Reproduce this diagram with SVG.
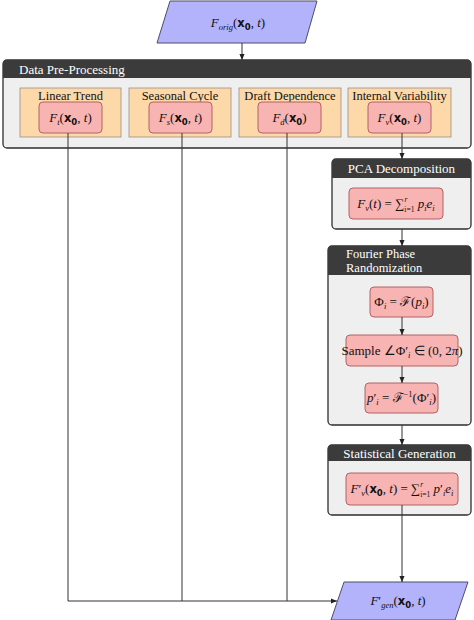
<svg xmlns="http://www.w3.org/2000/svg" width="474" height="620" viewBox="0 0 474 620" font-family="'Liberation Serif', 'Times New Roman', serif">
<defs>
<marker id="ah" viewBox="0 0 8 8" refX="7" refY="4" markerWidth="7" markerHeight="7" orient="auto" markerUnits="userSpaceOnUse">
<path d="M0,1 L7,4 L0,7 Z" fill="#222"/>
</marker>
</defs>
<style>
text{font-family:'Liberation Serif','Times New Roman',serif;fill:#111}
.hd{fill:#ffffff;font-size:13px}
.hd2{fill:#ffffff;font-size:12.5px}
.lbl{font-size:12.5px;text-anchor:middle}
.m{font-size:13px;text-anchor:middle}
.i{font-style:italic}
.b{font-weight:bold;font-family:'DejaVu Sans','Liberation Sans',sans-serif;font-size:11.5px}
.s{font-size:8.5px}
.t{font-size:7.5px}
.outer{fill:#efefef;stroke:#2e2e2e;stroke-width:1.3}
.head{fill:#3b3b3b}
.org{fill:#fdd9aa;stroke:#9a8f80;stroke-width:0.8}
.pink{fill:#f8b3b3;stroke:#b26363;stroke-width:1}
.para{fill:#b3b3fb;stroke:#4d4d6b;stroke-width:1}
.c{fill:none;stroke:#333;stroke-width:1}
</style>

<g id="orig">
<polygon class="para" points="170,1 317,1 305,43 157,43"/>
<text class="m" x="238" y="27"><tspan class="i">F</tspan><tspan class="i s" dy="3">orig</tspan><tspan dy="-3">(</tspan><tspan class="b">x</tspan><tspan class="b s" dy="3">0</tspan><tspan dy="-3">, </tspan><tspan class="i">t</tspan>)</text>
</g>

<g id="preprocessing">
<rect class="outer" x="3" y="60" width="468" height="88" rx="4"/>
<path class="head" d="M3,78 V64 a4,4 0 0 1 4,-4 H467 a4,4 0 0 1 4,4 V78 Z"/>
<text class="hd" x="19" y="73.5">Data Pre-Processing</text>
</g>

<g id="linear">
<rect class="org" x="20" y="88" width="101" height="49"/>
<text class="lbl" x="70.5" y="100">Linear Trend</text>
<rect class="pink" x="39" y="102" width="63" height="31" rx="4"/>
<text class="m" x="70.5" y="122"><tspan class="i">F</tspan><tspan class="i s" dy="3">t</tspan><tspan dy="-3">(</tspan><tspan class="b">x</tspan><tspan class="b s" dy="3">0</tspan><tspan dy="-3">, </tspan><tspan class="i">t</tspan>)</text>
</g>

<g id="seasonal">
<rect class="org" x="129" y="88" width="102" height="49"/>
<text class="lbl" x="180" y="100">Seasonal Cycle</text>
<rect class="pink" x="149" y="102" width="63" height="31" rx="4"/>
<text class="m" x="180.5" y="122"><tspan class="i">F</tspan><tspan class="i s" dy="3">s</tspan><tspan dy="-3">(</tspan><tspan class="b">x</tspan><tspan class="b s" dy="3">0</tspan><tspan dy="-3">, </tspan><tspan class="i">t</tspan>)</text>
</g>

<g id="draft">
<rect class="org" x="239" y="88" width="102" height="49"/>
<text class="lbl" x="290" y="100">Draft Dependence</text>
<rect class="pink" x="258" y="102" width="63" height="31" rx="4"/>
<text class="m" x="289.5" y="122"><tspan class="i">F</tspan><tspan class="i s" dy="3">d</tspan><tspan dy="-3">(</tspan><tspan class="b">x</tspan><tspan class="b s" dy="3">0</tspan><tspan dy="-3">)</tspan></text>
</g>

<g id="internal">
<rect class="org" x="348" y="88" width="103" height="49"/>
<text class="lbl" x="399.5" y="100">Internal Variability</text>
<rect class="pink" x="368" y="102" width="63" height="31" rx="4"/>
<text class="m" x="399.5" y="122"><tspan class="i">F</tspan><tspan class="i s" dy="3">v</tspan><tspan dy="-3">(</tspan><tspan class="b">x</tspan><tspan class="b s" dy="3">0</tspan><tspan dy="-3">, </tspan><tspan class="i">t</tspan>)</text>
</g>

<g id="pca">
<rect class="outer" x="332" y="159" width="139" height="70" rx="4"/>
<path class="head" d="M332,178 V163 a4,4 0 0 1 4,-4 H467 a4,4 0 0 1 4,4 V178 Z"/>
<text class="hd" x="401.5" y="172.5" text-anchor="middle">PCA Decomposition</text>
<rect class="pink" x="349" y="188" width="94" height="31" rx="4"/>
<text class="m" x="396" y="208"><tspan class="i">F</tspan><tspan class="i s" dy="3">v</tspan><tspan dy="-3">(</tspan><tspan class="i">t</tspan>) = ∑<tspan class="i t" dy="-6">r</tspan><tspan class="t" dx="-3" dy="10">i=1</tspan><tspan class="i" dy="-4"> p</tspan><tspan class="i s" dy="3">i</tspan><tspan class="i" dy="-3">e</tspan><tspan class="i s" dy="3">i</tspan></text>
</g>

<g id="fourier">
<rect class="outer" x="328" y="246" width="143" height="179" rx="4"/>
<path class="head" d="M328,275 V250 a4,4 0 0 1 4,-4 H467 a4,4 0 0 1 4,4 V275 Z"/>
<text class="hd2" x="346" y="257.5">Fourier Phase</text>
<text class="hd2" x="346" y="271.5">Randomization</text>
<rect class="pink" x="370" y="287" width="63" height="30" rx="4"/>
<text class="m" x="401.5" y="306">Φ<tspan class="i s" dy="3">i</tspan><tspan dy="-3"> = ℱ(</tspan><tspan class="i">p</tspan><tspan class="i s" dy="3">i</tspan><tspan dy="-3">)</tspan></text>
<rect class="pink" x="346" y="335" width="112" height="31" rx="4"/>
<text class="m" x="402" y="355">Sample ∠Φ′<tspan class="i s" dy="3">i</tspan><tspan dy="-3"> ∈ (0, 2</tspan><tspan class="i">π</tspan>)</text>
<rect class="pink" x="365" y="383" width="73" height="30" rx="4"/>
<text class="m" x="401.5" y="402"><tspan class="i">p</tspan>′<tspan class="i s" dy="3">i</tspan><tspan dy="-3"> = ℱ</tspan><tspan class="s" dy="-5">−1</tspan><tspan dy="5">(Φ′</tspan><tspan class="i s" dy="3">i</tspan><tspan dy="-3">)</tspan></text>
</g>

<g id="statgen">
<rect class="outer" x="328" y="445" width="143" height="70" rx="4"/>
<path class="head" d="M328,461 V449 a4,4 0 0 1 4,-4 H467 a4,4 0 0 1 4,4 V461 Z"/>
<text class="hd" x="399.5" y="457.5" text-anchor="middle">Statistical Generation</text>
<rect class="pink" x="346" y="473" width="112" height="32" rx="4"/>
<text class="m" x="402" y="493"><tspan class="i">F</tspan>′<tspan class="i s" dy="3">v</tspan><tspan dy="-3">(</tspan><tspan class="b">x</tspan><tspan class="b s" dy="3">0</tspan><tspan dy="-3">, </tspan><tspan class="i">t</tspan>) = ∑<tspan class="i t" dy="-6">r</tspan><tspan class="t" dx="-3" dy="10">i=1</tspan><tspan class="i" dy="-4"> p</tspan>′<tspan class="i s" dy="3">i</tspan><tspan class="i" dy="-3">e</tspan><tspan class="i s" dy="3">i</tspan></text>
</g>

<g id="gen">
<polygon class="para" points="344,582 468,582 455,620 331,620"/>
<text class="m" x="398" y="605"><tspan class="i">F</tspan>′<tspan class="i s" dy="3">gen</tspan><tspan dy="-3">(</tspan><tspan class="b">x</tspan><tspan class="b s" dy="3">0</tspan><tspan dy="-3">, </tspan><tspan class="i">t</tspan>)</text>
</g>

<g id="connectors">
<line class="c" x1="242" y1="43" x2="242" y2="60" marker-end="url(#ah)"/>
<line class="c" x1="402" y1="133" x2="402" y2="159" marker-end="url(#ah)"/>
<line class="c" x1="402" y1="229" x2="402" y2="246" marker-end="url(#ah)"/>
<line class="c" x1="402" y1="317" x2="402" y2="335" marker-end="url(#ah)"/>
<line class="c" x1="402" y1="366" x2="402" y2="383" marker-end="url(#ah)"/>
<line class="c" x1="402" y1="425" x2="402" y2="445" marker-end="url(#ah)"/>
<line class="c" x1="402" y1="505" x2="402" y2="582" marker-end="url(#ah)"/>
<polyline class="c" points="68,133 68,601 337,601" marker-end="url(#ah)"/>
<line class="c" x1="182" y1="133" x2="182" y2="601"/>
<line class="c" x1="287" y1="133" x2="287" y2="601"/>
</g>
</svg>
